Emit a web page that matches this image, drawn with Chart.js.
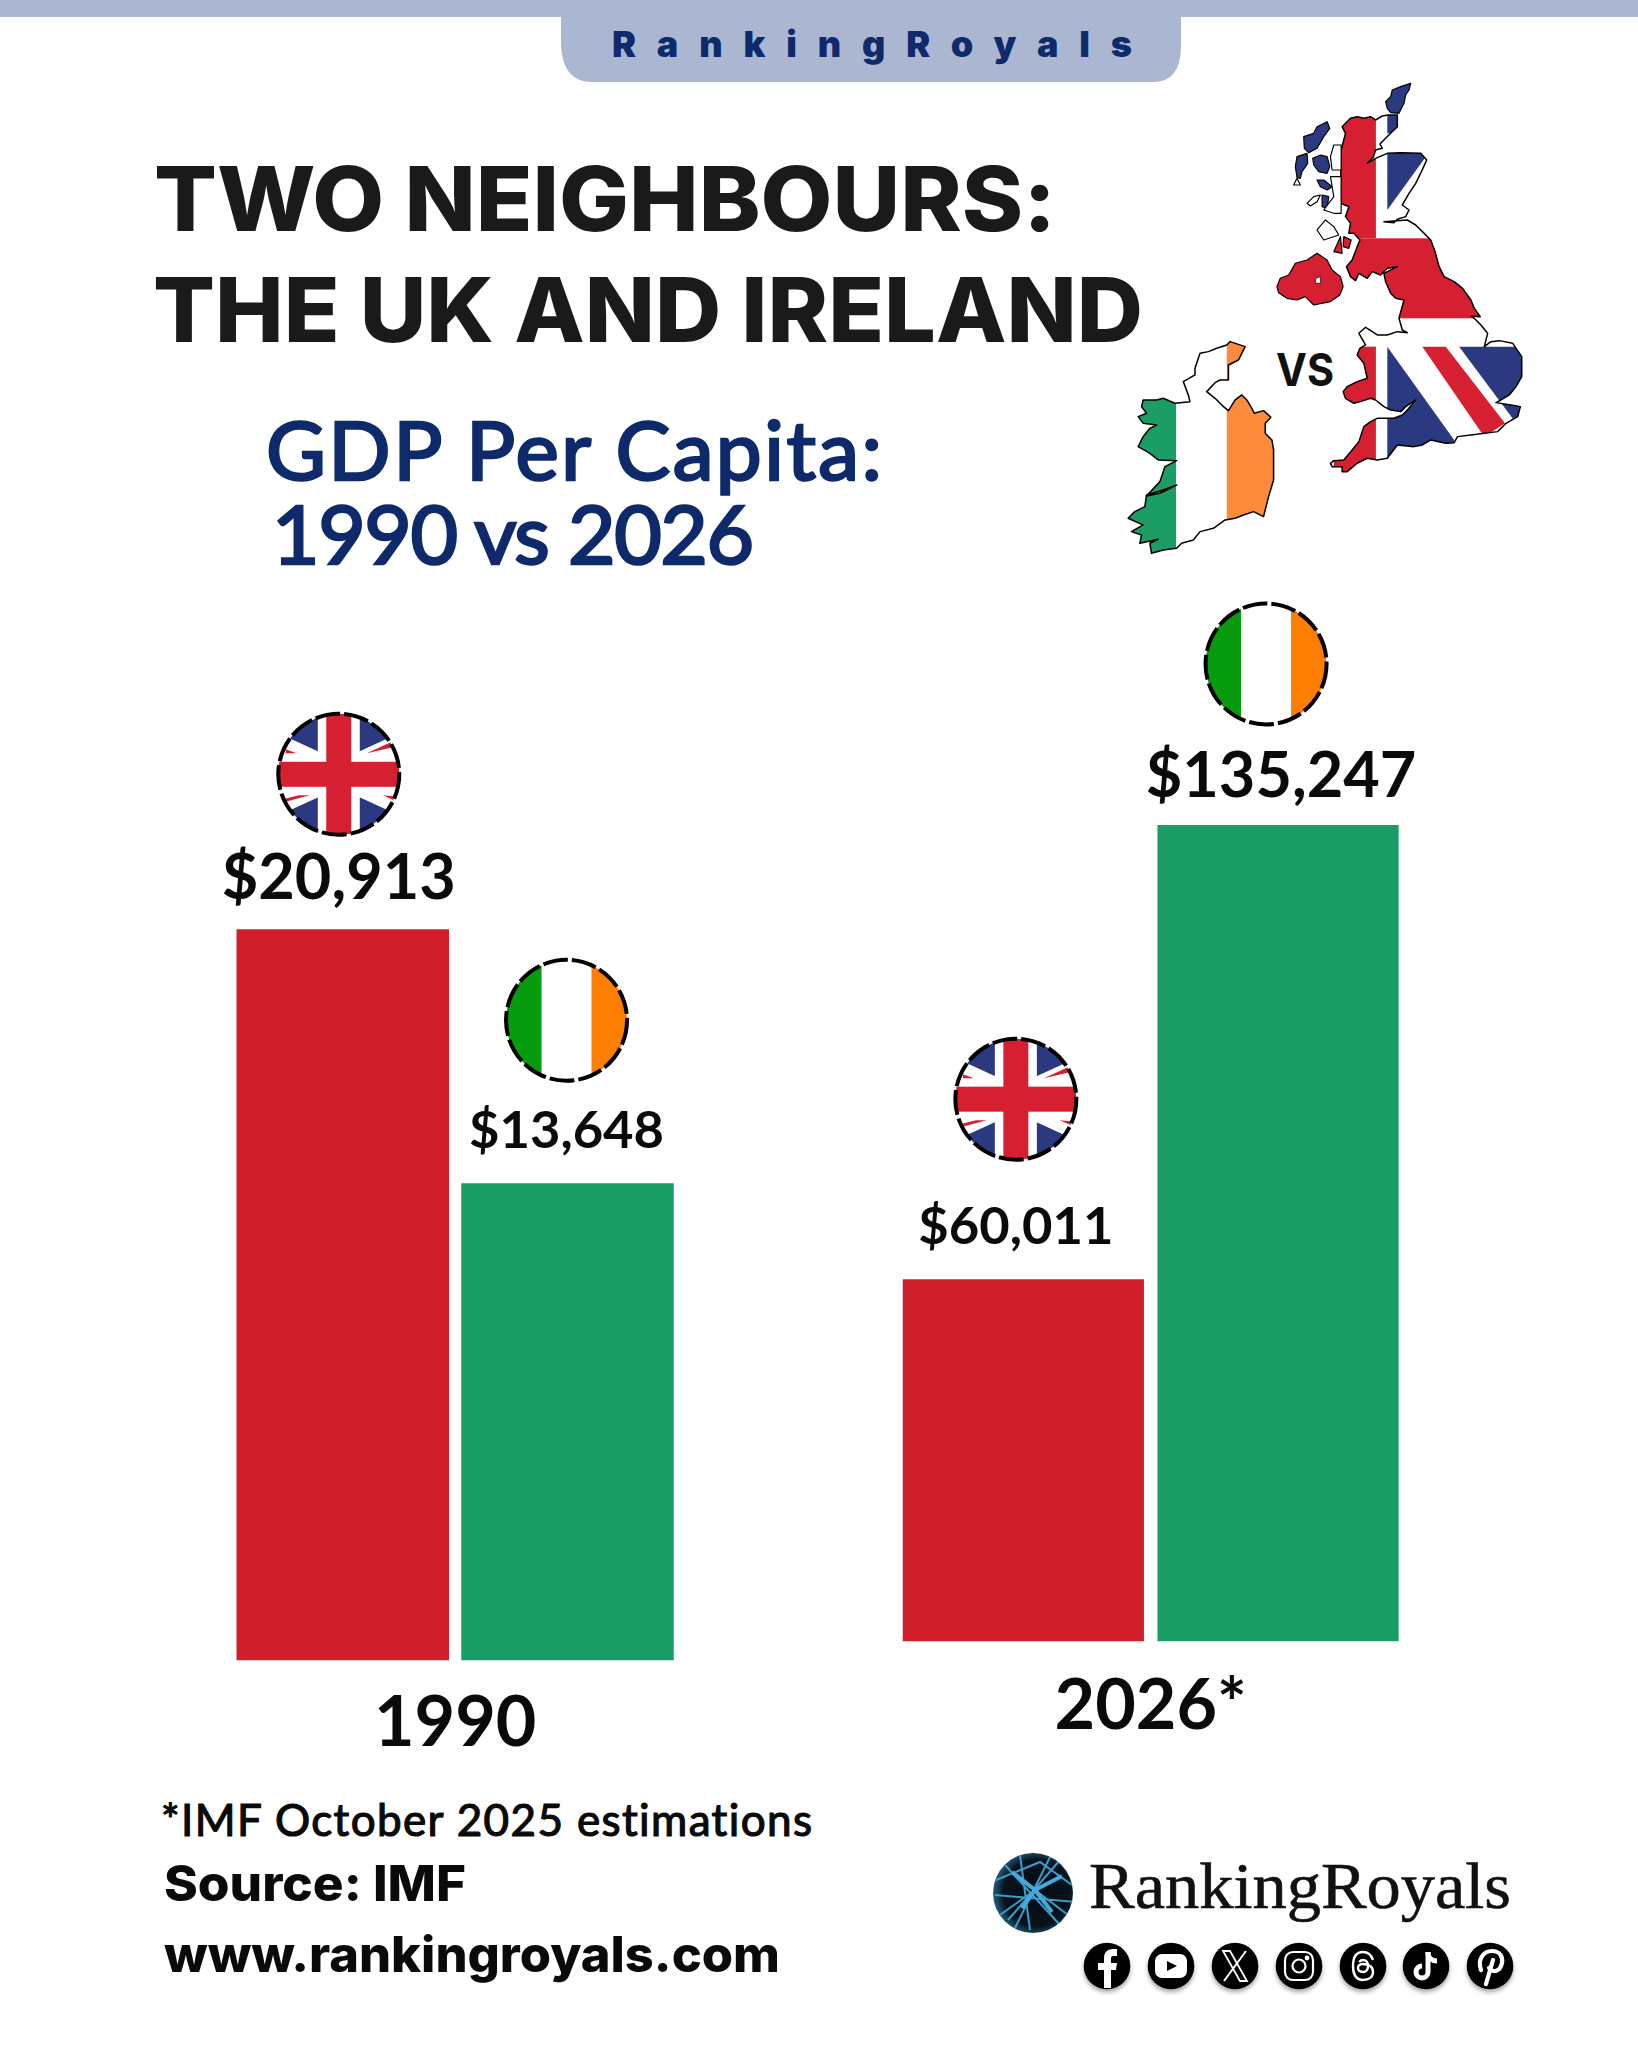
<!DOCTYPE html>
<html>
<head>
<meta charset="utf-8">
<title>Two Neighbours: The UK and Ireland</title>
<script src="https://cdn.jsdelivr.net/npm/chart.js@4"></script>
<style>
  html, body { margin: 0; padding: 0; background: #fff; }
  #page { position: relative; width: 1638px; height: 2048px; overflow: hidden; background: #fff; }
  #art { position: absolute; left: 0; top: 0; font-variant-ligatures: none; }
  canvas { position: absolute; }
  #chart1990 { left: 150px; top: 690px; }
  #chart2026 { left: 840px; top: 590px; }
</style>
</head>
<body>
<div id="page">
<svg id="art" width="1638" height="2048" viewBox="0 0 1638 2048" xmlns="http://www.w3.org/2000/svg">
  <defs>
    <polygon id="gbShape" points="750,145 770,140 790,145 810,140 825,150 845,138 862,135 890,135 890,170 870,190 855,205 838,222 845,235 825,240 818,262 800,280 825,265 860,250 900,248 960,250 978,270 962,305 945,340 925,370 905,405 925,420 915,440 890,448 880,458 850,455 890,452 920,450 945,465 965,485 990,510 1003,545 1015,590 1030,620 1060,635 1085,655 1110,690 1120,715 1138,740 1110,738 1120,745 1140,765 1160,790 1150,830 1170,815 1195,812 1235,820 1262,860 1262,920 1245,950 1225,975 1200,990 1185,998 1230,1005 1258,1010 1250,1040 1215,1060 1190,1085 1110,1095 1070,1100 1060,1118 1035,1120 990,1110 965,1125 940,1130 890,1125 860,1165 830,1170 800,1165 770,1180 740,1205 725,1205 725,1190 695,1190 690,1180 700,1172 730,1170 755,1140 775,1115 790,1070 810,1055 830,1045 880,1045 905,1035 920,1020 945,990 915,1010 900,1025 870,1020 850,1010 825,990 810,985 780,995 760,1000 735,985 728,965 740,950 770,935 800,925 790,880 770,855 778,835 795,825 775,790 795,772 815,785 830,795 860,795 890,785 920,788 905,780 895,745 910,690 885,685 870,670 855,635 850,610 890,590 860,595 840,615 815,605 800,625 775,610 765,632 750,620 738,590 755,570 770,530 778,510 760,490 745,490 750,460 735,440 745,410 720,400 722,240 735,190 725,170"/>
    <polygon id="ieShape" points="390,815 435,830 415,870 385,885 385,930 360,930 345,938 320,965 345,985 370,1010 385,1022 405,990 425,975 440,990 455,1015 462,1030 490,1022 512,1042 495,1060 495,1090 515,1110 520,1140 520,1230 505,1280 490,1340 460,1325 430,1335 405,1345 375,1350 340,1375 300,1385 280,1410 245,1420 230,1435 190,1440 155,1450 150,1420 175,1408 120,1420 125,1395 95,1385 130,1365 85,1345 105,1325 135,1310 140,1275 190,1260 230,1245 180,1270 140,1278 180,1235 195,1190 230,1172 175,1170 150,1150 115,1130 130,1100 150,1075 170,1065 130,1060 115,1040 140,1030 125,1010 130,990 170,990 190,985 225,1000 270,995 265,975 250,935 285,915 285,895 300,850 325,845 350,835 380,825"/>
    <clipPath id="gbClip"><use href="#gbShape"/></clipPath>
    <clipPath id="ieClip"><use href="#ieShape"/></clipPath>
    <radialGradient id="globeFill" cx="55%" cy="50%" r="60%">
      <stop offset="0" stop-color="#050b12"/><stop offset="0.7" stop-color="#07131d"/><stop offset="1" stop-color="#2c7da6"/>
    </radialGradient>
    <clipPath id="globeClip"><circle cx="1033" cy="1893" r="40"/></clipPath>
    <filter id="soft" x="-30%" y="-30%" width="160%" height="170%"><feDropShadow dx="0" dy="3" stdDeviation="2" flood-color="#000" flood-opacity="0.35"/></filter>
  </defs>

  <!-- top band and tab -->
  <rect x="0" y="0" width="1638" height="17" fill="#abb7d1"/>
  <path d="M561 17V46Q563 82 592 82H1153Q1181 82 1181 46V17Z" fill="#abb7d1"/>
  <text x="612" y="57" font-family="Inter" font-weight="900" font-size="36" fill="#0f2a6b" textLength="520">RankingRoyals</text>

  <!-- headings -->
  <text x="154" y="231" font-family="Inter" font-weight="800" font-size="89" fill="#1a1a1a" textLength="902" lengthAdjust="spacingAndGlyphs">TWO NEIGHBOURS:</text>
  <text x="153" y="342" font-family="Inter" font-weight="800" font-size="89" fill="#1a1a1a" textLength="990" lengthAdjust="spacingAndGlyphs">THE UK AND IRELAND</text>
  <text x="266" y="480" font-family="Lato" font-size="82" fill="#0f2a6b" stroke="#0f2a6b" stroke-width="2.6" textLength="616">GDP Per Capita:</text>
  <text x="272" y="564" font-family="Lato" font-size="82" fill="#0f2a6b" stroke="#0f2a6b" stroke-width="2.6" textLength="482">1990 vs 2026</text>

  <!-- maps -->
  <g transform="translate(1099.7 70) scale(.3344 .3333)">
    <g clip-path="url(#gbClip)">
      <rect x="680" y="120" width="620" height="1100" fill="#fff"/>
      <rect x="700" y="120" width="126" height="385" fill="#d62032"/>
      <polygon points="860,240 990,240 860,420" fill="#2b3a80"/>
      <rect x="860" y="120" width="40" height="70" fill="#2b3a80"/>
      <rect x="700" y="505" width="600" height="240" fill="#d62032"/>
      <rect x="700" y="830" width="126" height="400" fill="#d62032"/>
      <polygon points="860,830 1060,1110 1060,1230 860,1230" fill="#2b3a80"/>
      <polygon points="965,830 1035,830 1212,1060 1150,1100" fill="#d62032"/>
      <polygon points="1075,830 1300,830 1300,1080 1240,1052" fill="#2b3a80"/>
    </g>
    <use href="#gbShape" fill="none" stroke="#000" stroke-width="4.5" stroke-linejoin="round"/>
    <!-- islands -->
    <g fill="#2b3a80" stroke="#000" stroke-width="3.5" stroke-linejoin="round">
      <polygon points="930,40 925,60 915,75 910,100 895,130 870,128 860,115 855,95 870,80 875,60 900,50"/>
      <polygon points="680,155 688,175 670,200 650,235 625,248 612,235 610,200 640,190 650,170"/>
      <polygon points="620,250 622,280 605,305 600,325 590,322 585,290 590,260"/>
      <polygon points="660,255 680,260 688,290 680,310 655,305 640,285 637,265"/>
      <polygon points="650,330 670,330 695,350 680,360 660,350"/>
      <polygon points="665,375 685,380 680,415 665,410"/>
    </g>
    <g fill="#fff" stroke="#000" stroke-width="3.5" stroke-linejoin="round">
      <polygon points="590,325 600,345 580,345"/>
      <polygon points="620,400 640,380 660,375 650,395 630,408"/>
      <polygon points="650,480 675,450 700,470 715,495 670,510"/>
      <polygon points="700,225 722,225 722,300 695,300 690,260"/>
      <polygon points="690,320 722,320 722,430 700,430 670,420 700,380"/>
    </g>
    <g fill="#d62032" stroke="#000" stroke-width="3.5" stroke-linejoin="round">
      <polygon points="700,545 720,500 725,550"/>
      <polygon points="730,500 752,510 745,535 728,530"/>
      <polygon points="530,650 540,625 565,615 585,580 620,570 650,550 680,570 695,600 720,620 728,650 718,675 690,695 640,705 615,680 590,690 560,685 535,668"/>
    </g>
    <polygon points="646,625 660,620 660,640 646,640" fill="#fff" stroke="#000" stroke-width="2"/>

    <g clip-path="url(#ieClip)">
      <rect x="60" y="800" width="169" height="680" fill="#1a9e66"/>
      <rect x="229" y="800" width="151" height="680" fill="#fff"/>
      <rect x="380" y="800" width="170" height="680" fill="#fd8b3c"/>
    </g>
    <use href="#ieShape" fill="none" stroke="#000" stroke-width="4.5" stroke-linejoin="round"/>
  </g>
  <text x="1276" y="386" font-family="Inter" font-weight="700" font-size="45" fill="#111" textLength="58" lengthAdjust="spacingAndGlyphs">VS</text>

  <!-- footer left -->
  <text x="161" y="1836" font-family="Lato" font-size="44" fill="#0a0a0a" stroke="#0a0a0a" stroke-width="1.2" textLength="651">*IMF October 2025 estimations</text>
  <text x="164" y="1901" font-family="Inter" font-weight="800" font-size="49" fill="#0a0a0a" textLength="302" lengthAdjust="spacingAndGlyphs">Source: IMF</text>
  <text x="164" y="1972" font-family="Inter" font-weight="800" font-size="49" fill="#0a0a0a" textLength="616" lengthAdjust="spacingAndGlyphs">www.rankingroyals.com</text>

  <!-- logo -->
  <circle cx="1033" cy="1893" r="40" fill="url(#globeFill)"/>
  <g clip-path="url(#globeClip)" fill="none" stroke="#3c9ccb" stroke-width="2">
    <path d="M996 1880L1040 1862L1072 1885M1000 1915L1035 1890L1068 1915M1020 1855L1030 1930M1050 1857L1015 1928M995 1895L1075 1902M1005 1865L1060 1925M1060 1860L1008 1920"/>
    <path d="M1012 1872L1035 1890L1022 1908M1035 1890L1062 1876M1035 1890L1052 1912" stroke-width="4" stroke="#45aad8"/>
  </g>
  <text x="1089" y="1908" font-family="Liberation Serif" font-size="66" fill="#111" stroke="#111" stroke-width=".6" textLength="422" lengthAdjust="spacingAndGlyphs">RankingRoyals</text>

  <!-- social icons -->
  <g filter="url(#soft)">
    <circle cx="1107" cy="1966" r="23.3" fill="#000"/>
    <circle cx="1171" cy="1966" r="23.3" fill="#000"/>
    <circle cx="1235" cy="1966" r="23.3" fill="#000"/>
    <circle cx="1299" cy="1966" r="23.3" fill="#000"/>
    <circle cx="1363" cy="1966" r="23.3" fill="#000"/>
    <circle cx="1426" cy="1966" r="23.3" fill="#000"/>
    <circle cx="1490" cy="1966" r="23.3" fill="#000"/>
  </g>
  <path transform="translate(1107 1966)" d="M-3 22V4H-9V-3H-3V-8C-3 -14 1 -17 6 -17H10V-10H7C4 -10 4 -9 4 -7V-3H10L9 4H4V22Z" fill="#fff"/>
  <g transform="translate(1171 1966)"><rect x="-16" y="-12" width="32" height="24" rx="7" fill="#fff"/><polygon points="-4,-5 6,0 -4,5" fill="#000"/></g>
  <g transform="translate(1235 1966)" fill="none" stroke="#fff"><path d="M-12 -15H-5L12 15H5Z" stroke-width="1.8"/><path d="M11 -15L-11 15" stroke-width="2"/></g>
  <g transform="translate(1299 1966)" fill="none" stroke="#fff" stroke-width="2.2"><rect x="-14" y="-14" width="28" height="28" rx="8"/><circle cx="0" cy="0" r="6.5"/><circle cx="8" cy="-8" r="1.3" fill="#fff"/></g>
  <path transform="translate(1363 1966)" d="M10 -6C8 -12 4 -14 0 -14C-7 -14 -10 -8 -10 0C-10 8 -7 14 0 14C6 14 10 11 10 6C10 0 5 -2 0 -2C-4 -2 -5 0 -5 2C-5 5 -3 6 0 6C3 6 5 4 5 0C5 -4 3 -6 0 -6C-2 -6 -3 -5 -4 -4" fill="none" stroke="#fff" stroke-width="2.4"/>
  <g transform="translate(1426 1966)" fill="none" stroke="#fff" stroke-width="5"><path d="M2 -14V6A6 6 0 1 1 -4 0"/><path d="M2 -14C2 -8 6 -5 11 -5"/></g>
  <path transform="translate(1490 1966)" d="M-4 18L3 -6M-9 4C-13 -7 -6 -15 2 -15C10 -15 13 -9 12 -3C10 6 3 7 -1 2" fill="none" stroke="#fff" stroke-width="4.2" stroke-linecap="round"/>
</svg>
<canvas id="chart1990" width="600" height="1097"></canvas>
<canvas id="chart2026" width="640" height="1182"></canvas>
</div>

<script>
// values
const countries = ['UK', 'Ireland'];
const years = ['1990', '2026*'];
const gdp1990 = [20913, 13648];
const gdp2026 = [60011, 135247];

const countryColors = ['#d01f2b', '#199d65'];

function money(v) {
    return '$' + v.toLocaleString('en-US');
}

// thin red wedges of the union flag, as offsets from the flag centre
const flagSlivers = [
    [[-53, -25], [-42, -21], [-53, -21]],
    [[28, -21], [52, -32], [54, -27]],
    [[-55, 28], [-29, 21], [-40, 21], [-56, 25]],
    [[44, 21], [55, 26], [54, 22]]
];

// round flags with the dashed rim
function drawFlag(ctx, country, x, y, r) {
    ctx.save();
    ctx.beginPath();
    ctx.arc(x, y, r, 0, Math.PI * 2);
    ctx.clip();
    if (country === 'Ireland') {
        ctx.fillStyle = '#fff';
        ctx.fillRect(x - r, y - r, r * 2, r * 2);
        ctx.fillStyle = '#079b10';
        ctx.fillRect(x - r, y - r, r - 25, r * 2);
        ctx.fillStyle = '#fd7e00';
        ctx.fillRect(x + 25, y - r, r - 25, r * 2);
    } else {
        ctx.fillStyle = '#2b3a80';
        ctx.fillRect(x - r, y - r, r * 2, r * 2);
        // diagonals
        ctx.strokeStyle = '#fff';
        ctx.lineWidth = 24.5;
        ctx.beginPath();
        ctx.moveTo(x - r * 1.2, y - r * 0.55);
        ctx.lineTo(x + r * 1.2, y + r * 0.55);
        ctx.moveTo(x - r * 1.2, y + r * 0.55);
        ctx.lineTo(x + r * 1.2, y - r * 0.55);
        ctx.stroke();
        // cross
        ctx.fillStyle = '#fff';
        ctx.fillRect(x - 21, y - r, 42, r * 2);
        ctx.fillRect(x - r, y - 20, r * 2, 40);
        ctx.fillStyle = '#d62032';
        flagSlivers.forEach(s => {
            ctx.beginPath();
            s.forEach((p, i) => i ? ctx.lineTo(x + p[0], y + p[1]) : ctx.moveTo(x + p[0], y + p[1]));
            ctx.fill();
        });
        ctx.fillRect(x - 12.5, y - r, 25, r * 2);
        ctx.fillRect(x - r, y - 12.5, r * 2, 25);
    }
    ctx.restore();
    ctx.save();
    ctx.strokeStyle = '#000';
    ctx.lineWidth = 4;
    ctx.setLineDash([25, 4]);
    ctx.beginPath();
    ctx.arc(x, y, r, 0, Math.PI * 2);
    ctx.stroke();
    ctx.restore();
}

// value label and flag sit above each bar
function barNotes(notes) {
    return {
        id: 'barNotes',
        afterDatasetsDraw(chart) {
            const ctx = chart.ctx;
            chart.data.datasets.forEach((ds, i) => {
                const bar = chart.getDatasetMeta(i).data[0];
                const n = notes[i];
                ctx.save();
                ctx.fillStyle = '#0a0a0a';
                ctx.font = '700 ' + n.size + 'px Lato';
                ctx.textAlign = 'center';
                ctx.textBaseline = 'alphabetic';
                ctx.fillText(money(ds.data[0]), bar.x + n.labelDx, bar.y - n.labelDy);
                ctx.restore();
                drawFlag(ctx, ds.label, bar.x + n.flagDx, bar.y - n.flagDy, 60.5);
            });
        }
    };
}

function makePanel(id, year, values, yMax, barPct, pad, tickPad, notes) {
    return new Chart(document.getElementById(id), {
        type: 'bar',
        data: {
            labels: [year],
            datasets: countries.map((c, i) => ({
                label: c,
                data: [values[i]],
                backgroundColor: countryColors[i],
                borderWidth: 0
            }))
        },
        options: {
            responsive: false,
            animation: false,
            layout: { padding: pad },
            barPercentage: barPct,
            categoryPercentage: 1,
            plugins: { legend: { display: false }, tooltip: { enabled: false } },
            scales: {
                x: {
                    grid: { display: false, drawTicks: false },
                    border: { display: false },
                    ticks: {
                        color: '#0a0a0a',
                        padding: tickPad,
                        maxRotation: 0,
                        font: { family: 'Lato', size: 70, weight: '700' }
                    }
                },
                y: { display: false, min: 0, max: yMax }
            }
        },
        plugins: [barNotes(notes)]
    });
}

makePanel('chart1990', years[0], gdp1990, 27500, 0.9455,
    { left: 80.4, right: 70.1, top: 9, bottom: 0.5 }, 21,
    [
        { size: 63, labelDx: -4, labelDy: 30, flagDx: -4, flagDy: 155 },
        { size: 52.5, labelDx: -1, labelDy: 35, flagDx: -1, flagDy: 163 }
    ]);

makePanel('chart2026', years[1], gdp2026, 172500, 0.947,
    { left: 56, right: 74.6, top: 10, bottom: 0.5 }, 23,
    [
        { size: 52.5, labelDx: -7.5, labelDy: 35, flagDx: -7.5, flagDy: 180 },
        { size: 63, labelDx: 3, labelDy: 28, flagDx: -12, flagDy: 161 }
    ]);
</script>
</body>
</html>
